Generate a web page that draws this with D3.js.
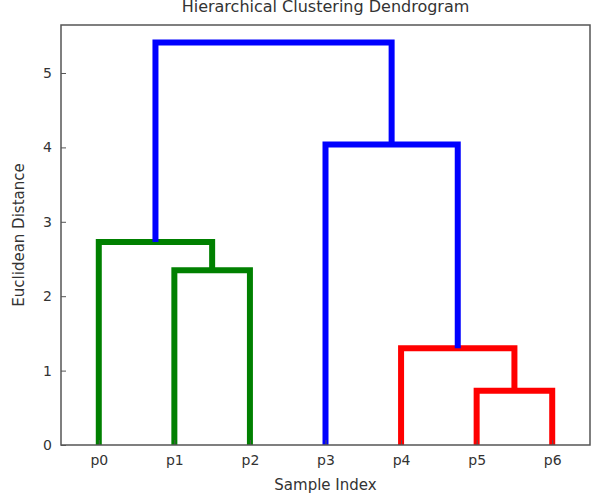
<!DOCTYPE html><html><head><meta charset="utf-8"><script src="https://cdn.jsdelivr.net/npm/d3@7"></script>
<style>body{margin:0;background:#fff}text{font-family:"DejaVu Sans",sans-serif}</style></head><body><svg id="c" width="594" height="498"></svg>
<script>
const labels=["p0","p1","p2","p3","p4","p5","p6"];
const yTicks=[0,1,2,3,4,5];
const linksX=[[55,55,65,65],[45,45,60,60],[35,35,52.5,52.5],[15,15,25,25],[5,5,20,20],[12.5,12.5,43.75,43.75]];
const linksY=[[0,0.73,0.73,0],[0,1.3,1.3,0.73],[0,4.04,4.04,1.3],[0,2.35,2.35,0],[0,2.73,2.73,2.35],[2.73,5.41,5.41,4.04]];
const linksC=["#ff0000","#ff0000","#0000ff","#008000","#008000","#0000ff"];
const svg=d3.select("#c");
const L=61,R=590,T=25,B=445;
const x=d3.scaleLinear().domain([0,70]).range([L,R]);
const y=d3.scaleLinear().domain([0,5.645]).range([B,T]);
const line=d3.line();
linksX.forEach((xs,i)=>{
 svg.append("path").attr("d",line(xs.map((v,j)=>[x(v),y(linksY[i][j])]))).attr("fill","none").attr("stroke",linksC[i]).attr("stroke-width",6).attr("stroke-linejoin","miter");
});
svg.append("rect").attr("x",L).attr("y",T).attr("width",R-L).attr("height",B-T).attr("fill","none").attr("stroke","#555").attr("stroke-width",1.5);
const ya=svg.append("g").attr("transform",`translate(${L},0)`).call(d3.axisLeft(y).tickValues(yTicks).tickFormat(d3.format("d")).tickSizeInner(-5).tickSizeOuter(0).tickPadding(9));
const xa=svg.append("g").attr("transform",`translate(0,${B})`).call(d3.axisBottom(x).tickValues(labels.map((d,i)=>5+10*i)).tickFormat((d,i)=>labels[i]).tickSizeInner(-5).tickSizeOuter(0).tickPadding(10));
[ya,xa].forEach(a=>{a.select(".domain").remove();a.selectAll("line").attr("stroke","#555");a.selectAll("text").attr("font-size",14).attr("fill","#333");});
svg.append("text").attr("x",(L+R)/2).attr("y",12).attr("text-anchor","middle").attr("font-size",16).attr("fill","#333").text("Hierarchical Clustering Dendrogram");
svg.append("text").attr("x",(L+R)/2).attr("y",490).attr("text-anchor","middle").attr("font-size",15).attr("fill","#333").text("Sample Index");
svg.append("text").attr("transform",`translate(24,${(T+B)/2}) rotate(-90)`).attr("text-anchor","middle").attr("font-size",15).attr("fill","#333").text("Euclidean Distance");
</script></body></html>
